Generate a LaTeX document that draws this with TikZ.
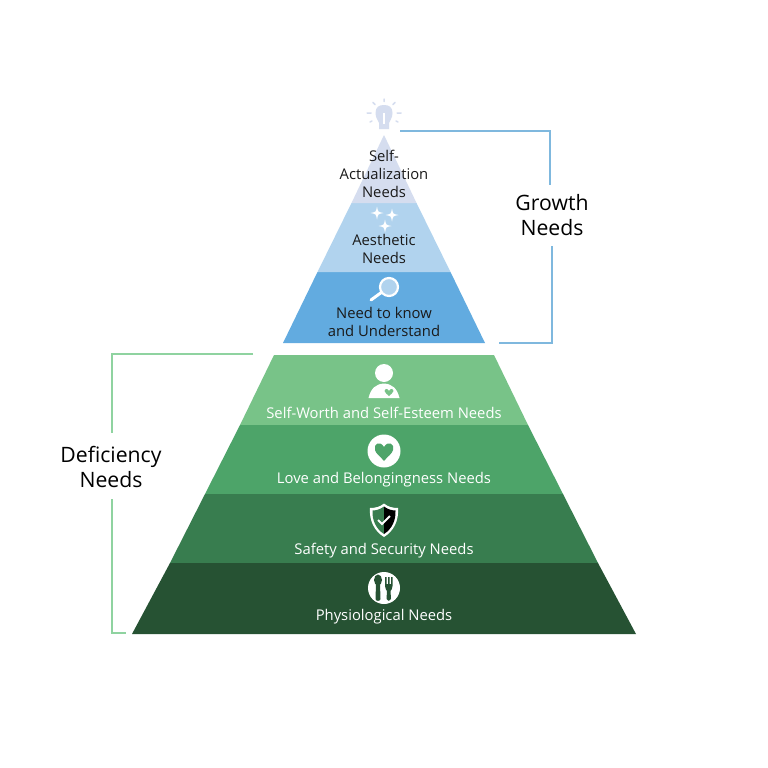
\documentclass[tikz,border=0pt]{standalone}
\usepackage{fontspec}
\setmainfont{Open Sans}
\definecolor{gA}{HTML}{265233}
\definecolor{gB}{HTML}{387D4F}
\definecolor{gC}{HTML}{4DA469}
\definecolor{gD}{HTML}{78C388}
\definecolor{bA}{HTML}{62ABE0}
\definecolor{bB}{HTML}{B1D3EE}
\definecolor{bC}{HTML}{D5DDEF}
\definecolor{txtdark}{HTML}{1A1A1A}
\definecolor{linegreen}{HTML}{8FD3A0}
\definecolor{lineblue}{HTML}{7FB8DE}
\tikzset{
  lighttext/.style={text=white,font=\fontsize{14.8}{17}\selectfont,align=center,inner sep=0pt},
  darktext/.style={text=txtdark,font=\fontsize{14.8}{18}\selectfont,align=center,inner sep=0pt},
  grouplabel/.style={text=black,font=\fontsize{21.2}{25}\selectfont,align=center,inner sep=2pt},
  bracketg/.style={draw=linegreen,line width=1.4pt},
  bracketb/.style={draw=lineblue,line width=1.4pt}
}
\begin{document}
\begin{tikzpicture}[x=1pt,y=-1pt]
\useasboundingbox (0,0) rectangle (768,768);
\fill[white] (0,0) rectangle (768,768);
% lower pyramid
\fill[gD] (274,355) -- (494,355) -- (528,425) -- (240,425) -- cycle;
\fill[gC] (240,425) -- (528,425) -- (563,494) -- (205,494) -- cycle;
\fill[gB] (205,494) -- (563,494) -- (598,563) -- (170,563) -- cycle;
\fill[gA] (170,563) -- (598,563) -- (636,634) -- (132,634) -- cycle;
% upper pyramid
\fill[bA] (317.5,272) -- (450.5,272) -- (485,343) -- (283,343) -- cycle;
\fill[bB] (351.5,203) -- (416.5,203) -- (450.5,272) -- (317.5,272) -- cycle;
\fill[bC] (384,135) -- (416.5,203) -- (351.5,203) -- cycle;
% labels
\node[darktext] (selfact) at (384,173.5) {Self-\\Actualization\\Needs};
\node[darktext] (aes) at (384,249) {Aesthetic\\Needs};
\node[darktext] (know) at (384,322) {Need to know\\and Understand};
\node[lighttext] (worth) at (384,413) {Self-Worth and Self-Esteem Needs};
\node[lighttext] (love) at (384,480) {Love and Belongingness Needs};
\node[lighttext] (safe) at (384,551) {Safety and Security Needs};
\node[lighttext] (phys) at (384,617) {Physiological Needs};
\node[grouplabel] (growth) at (552,215.5) {Growth\\Needs};
\node[grouplabel] (defic) at (111,467) {Deficiency\\Needs};
% brackets
\coordinate (gt) at (400,131);
\coordinate (gb) at (499,343);
\coordinate (dt) at (253,354);
\coordinate (db) at (126,633);
\draw[bracketb] (gt) -- (550,131) -- (550,185);
\draw[bracketb] (552,246) -- (552,343) -- (gb);
\draw[bracketg] (dt) -- (112,354) -- (112,433);
\draw[bracketg] (112,499) -- (112,633) -- (db);
% bulb
\begin{scope}[shift={(384,115)}]
\fill[bC] (-8.5,-2) .. controls (-8.5,-8) and (-5,-10) .. (0,-10) .. controls (5,-10) and (8.5,-8) .. (8.5,-2) .. controls (8.5,3) and (6,5) .. (5,8) -- (5,14) -- (-5,14) -- (-5,8) .. controls (-6,5) and (-8.5,3) .. (-8.5,-2) -- cycle;
\fill[white] (-1,-2) rectangle (1,9);
\draw[bC,line width=1.5pt,line cap=round] (0,-16) -- (0,-13.5)
 (-11,-12.5) -- (-9,-10.5) (11,-12.5) -- (9,-10.5)
 (-17,-2) -- (-13,-2) (17,-2) -- (13,-2)
 (-14,7) -- (-12,6) (14,7) -- (12,6);
\end{scope}
% sparkles
\foreach \x/\y/\r in {377/213/6.5,392/215/6.5,385/226/6.5}{
 \fill[white] (\x,\y-\r) .. controls (\x+1,\y-1) and (\x+1,\y-1) .. (\x+\r,\y)
  .. controls (\x+1,\y+1) and (\x+1,\y+1) .. (\x,\y+\r)
  .. controls (\x-1,\y+1) and (\x-1,\y+1) .. (\x-\r,\y)
  .. controls (\x-1,\y-1) and (\x-1,\y-1) .. (\x,\y-\r) -- cycle;
}
% magnifier
\draw[white,line width=3pt,line cap=round] (371,300) -- (382,292);
\fill[bB,draw=white,line width=2.2pt] (389,287) circle (9);
% person
\fill[white] (384,373) circle (9);
\fill[white] (368.5,398) .. controls (371,388) and (376,384) .. (384,383.5) .. controls (392,384) and (397,388) .. (399.5,398) -- cycle;
\fill[gD] (389,391) .. controls (387,387.5) and (384,389) .. (384.5,391) .. controls (385,393) and (387.5,394.5) .. (389,396) .. controls (390.5,394.5) and (393,393) .. (393.5,391) .. controls (394,389) and (391,387.5) .. (389,391) -- cycle;
% heart in circle
\fill[white] (384,451) circle (16.5);
\fill[gC] (384,447) .. controls (380,440) and (373,444) .. (375,450) .. controls (376,454) and (381,457) .. (384,461) .. controls (387,457) and (392,454) .. (393,450) .. controls (395,444) and (388,440) .. (384,447) -- cycle;
% shield
\fill[white] (384,503.5) .. controls (388,507) and (393,508) .. (398,508) .. controls (399,520) and (394,531) .. (384,537) .. controls (374,531) and (369,520) .. (370,508) .. controls (375,508) and (380,507) .. (384,503.5) -- cycle;
\fill[gB] (384,506.5) .. controls (380,509.5) and (376,510.5) .. (372.5,510.5) .. controls (372,520) and (376,529) .. (384,534) -- cycle;
\fill[black] (384,506.5) .. controls (388,509.5) and (392,510.5) .. (395.5,510.5) .. controls (396,520) and (392,529) .. (384,534) -- cycle;
\draw[white,line width=1.8pt] (378,520) -- (382,524) -- (390,516);
% cutlery
\fill[white] (384,588) circle (16);
\fill[gA] (378,580) ellipse (4 and 5.5);
\fill[gA] (376,584) -- (380,584) -- (380.5,599) .. controls (380,601.5) and (376,601.5) .. (375.5,599) -- cycle;
\fill[gA] (385,577) -- (386.5,577) -- (386.5,584) -- (388,584) -- (388,577) -- (389.5,577) -- (389.5,584) -- (391,584) -- (391,577) -- (392.5,577) -- (392.5,586) .. controls (392.5,589) and (391,590) .. (390.5,591) -- (391,599) .. controls (390.5,601.5) and (387,601.5) .. (386.5,599) -- (387,591) .. controls (386.5,590) and (385,589) .. (385,586) -- cycle;
\end{tikzpicture}
\end{document}
